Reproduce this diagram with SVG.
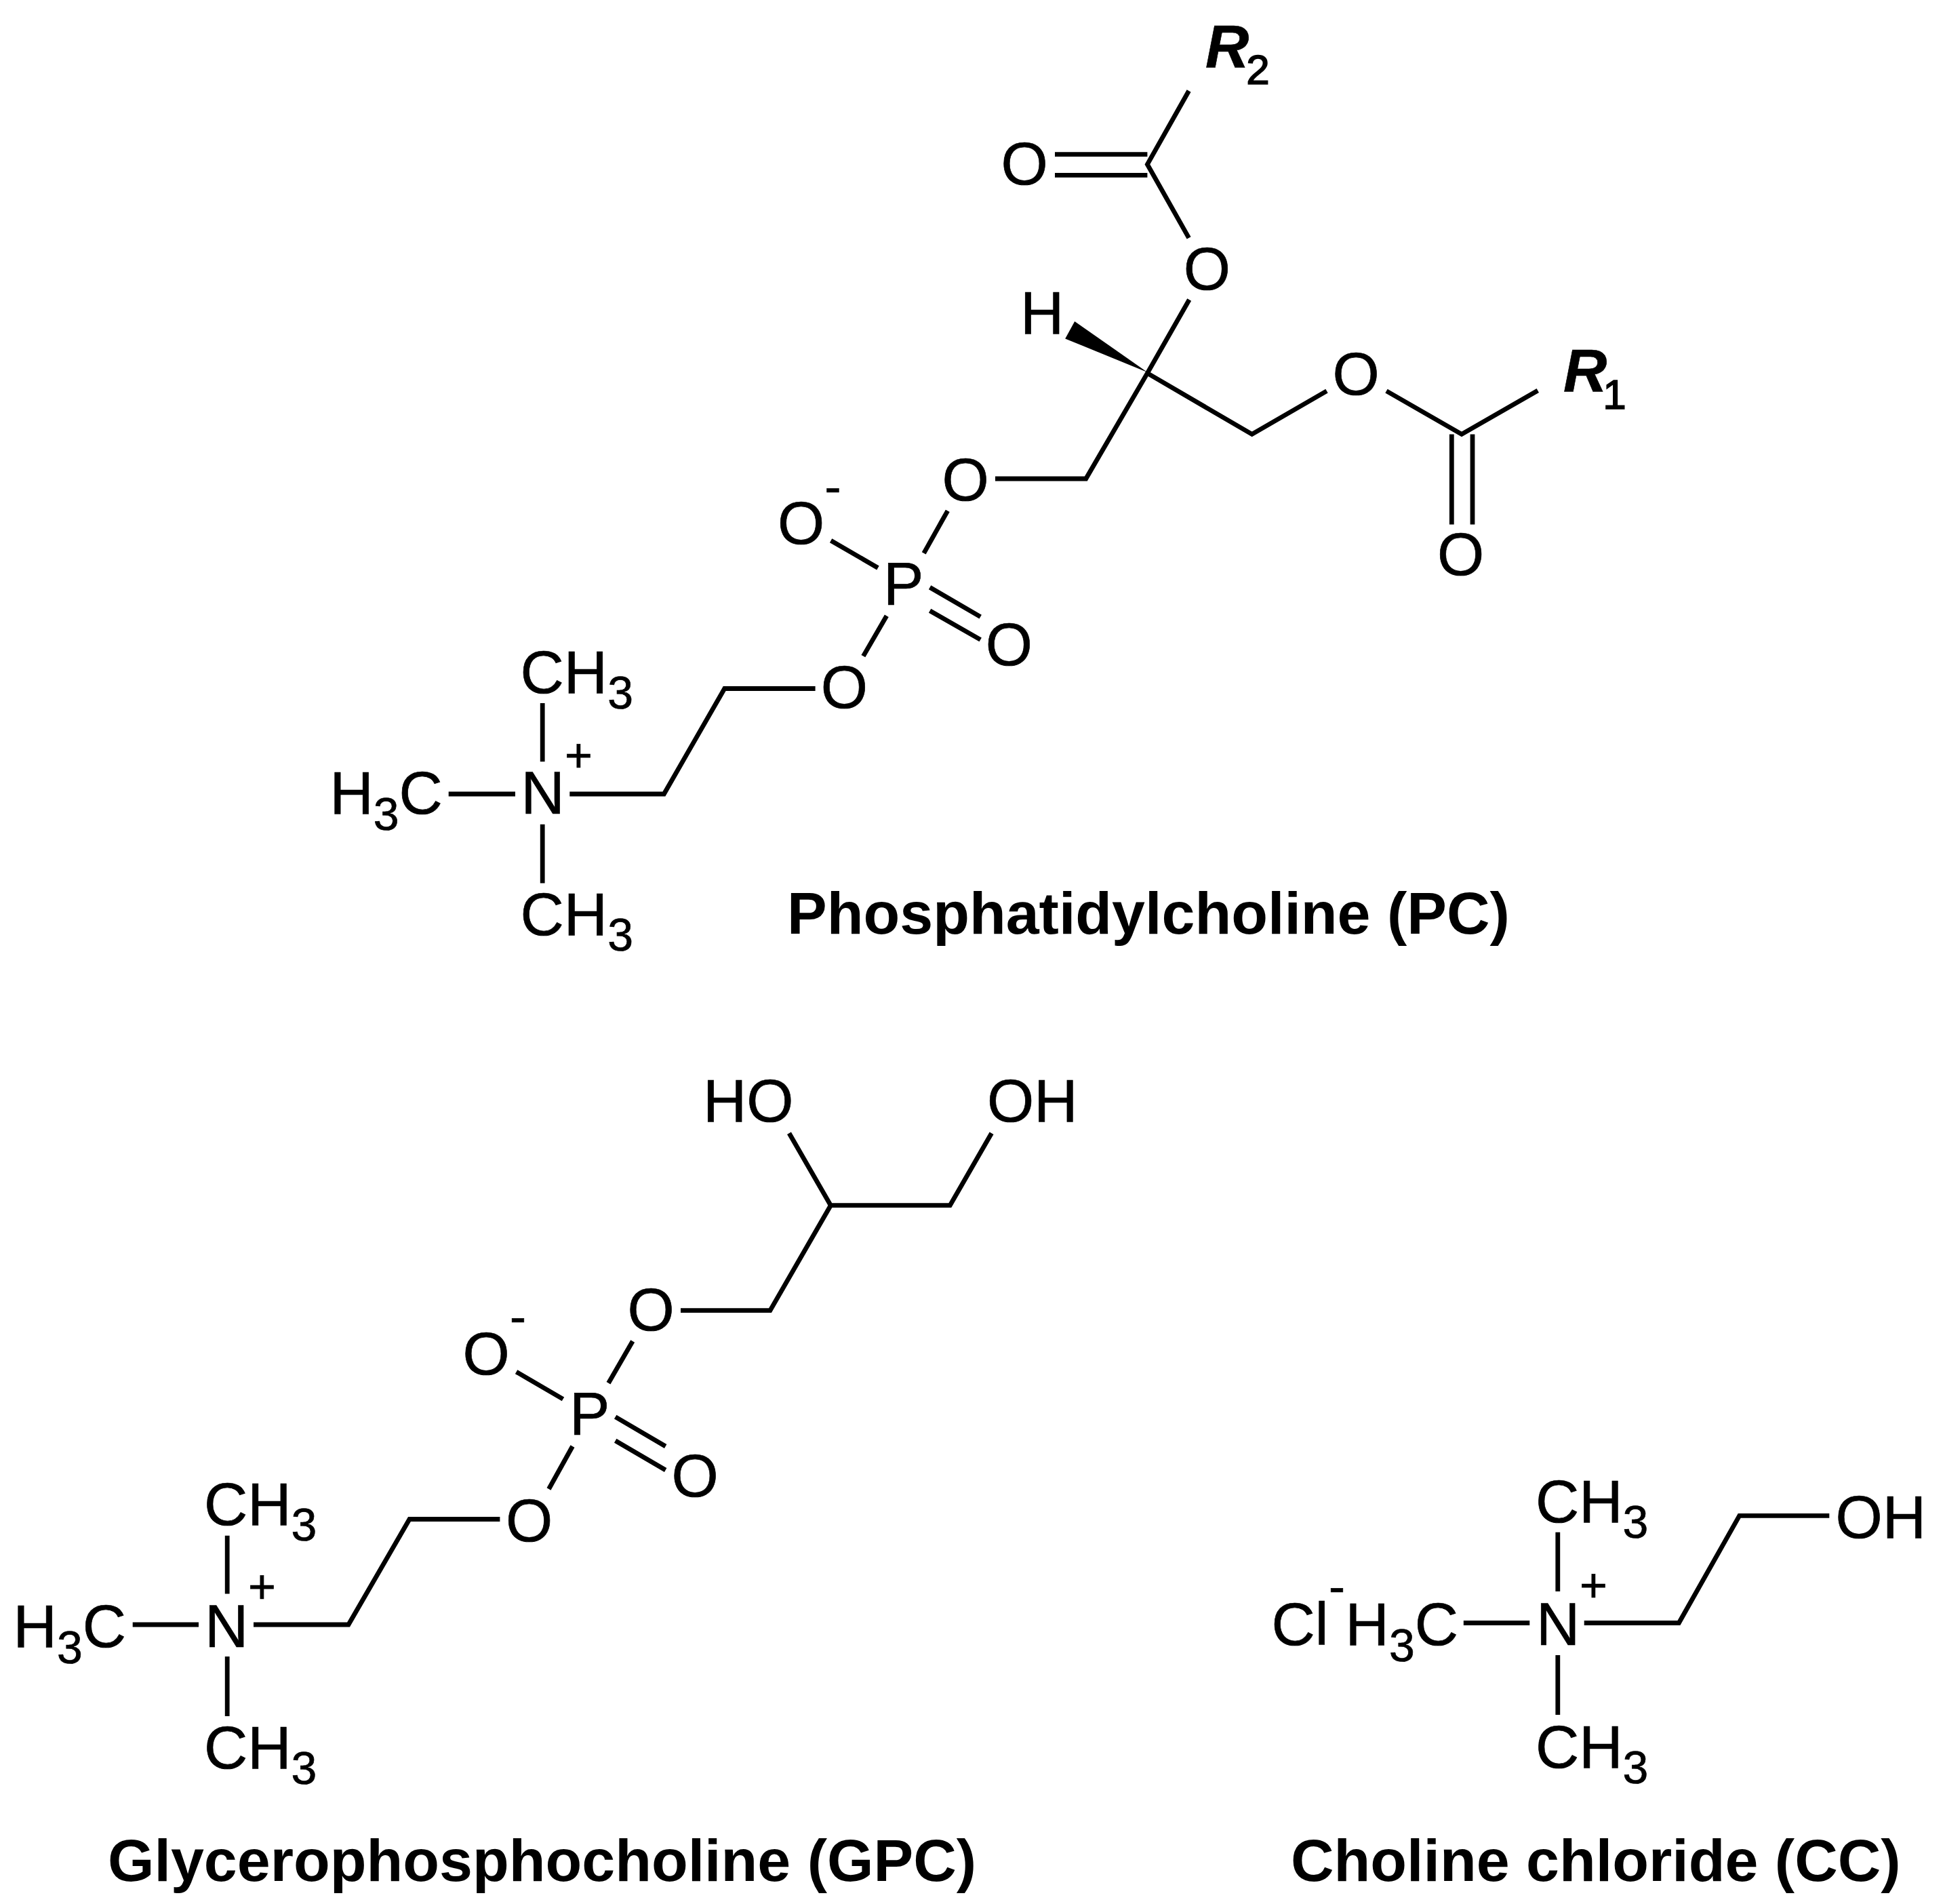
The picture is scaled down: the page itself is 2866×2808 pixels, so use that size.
<svg xmlns="http://www.w3.org/2000/svg" width="2866" height="2808" viewBox="0 0 2866 2808">
<style>
text{font-family:"Liberation Sans",Arial,sans-serif;font-size:89px;fill:#000;stroke:#000;stroke-width:.7}
.sub{font-size:68px}
.chg{font-size:70px}
.neg{font-size:72px}
.rsub{font-size:62px;font-weight:normal;font-style:normal;stroke-width:1.6}
.r{font-weight:bold;font-style:italic}
.title{font-weight:bold;font-size:88px;stroke-width:0}
#bonds path{fill:none;stroke:#000;stroke-width:6.8;stroke-linejoin:miter}
</style>
<rect width="2866" height="2808" fill="#fff"/>
<g id="bonds">
<!-- PC -->
<path d="M1753.6 134L1692.4 242.4L1753.6 350.8"/>
<path d="M1556 227.7H1692.4M1556 258.3H1692.4"/>
<path d="M1754.2 442L1692.4 550.4L1601.8 706H1468"/>
<path d="M1692.4 550.4L1846.7 640.4L1957 576.6"/>
<path d="M2045 576.6L2156 640.4L2268.3 576"/>
<path d="M2141.3 640.4V773.6M2172 640.4V773.6"/>
<path d="M1362.7 815.8L1397.8 753.3"/>
<path d="M1295 837.5L1225.6 797.3"/>
<path d="M1371.6 866.2L1446.2 909.6M1371.6 900.7L1446.2 943.4"/>
<path d="M1273.4 967.6L1307.8 908.3"/>
<path d="M1202.6 1015.5H1068.7L979.4 1171H840.3"/>
<path d="M661.7 1171H760"/>
<path d="M800.2 1037V1123.3M800.2 1215.7V1302.5"/>
<!-- GPC -->
<path d="M1164 1671.2L1225.3 1777.7H1401.3L1462.6 1671.2"/>
<path d="M1225.3 1777.7L1136 1932.7H1004"/>
<path d="M933.2 1978L897.5 2039.8"/>
<path d="M830.5 2063.4L761.6 2023.2"/>
<path d="M907.7 2089.6L981.7 2133M907.7 2124.7L981.7 2168"/>
<path d="M844.5 2133L809.5 2196"/>
<path d="M737.4 2240.5H604L514 2396H374"/>
<path d="M195.7 2396H293"/>
<path d="M335.2 2264.8V2350.5M335.2 2443V2531"/>
<!-- CC -->
<path d="M2698.3 2235.4H2565.7L2476.4 2393.5H2336.7"/>
<path d="M2158.8 2393.5H2256.3"/>
<path d="M2297.8 2259.8V2347M2297.8 2440.9V2529"/>
</g>
<polygon id="wedge" points="1692.4,549 1585.2,473.9 1571.2,499.4" fill="#000"/>
<g id="phosphatidylcholine">
<text class="r" x="1778" y="99">R<tspan class="rsub" dx="-4" dy="25">2</tspan></text>
<text x="1511" y="272" text-anchor="middle">O</text>
<text x="1780.4" y="427" text-anchor="middle">O</text>
<text x="1505" y="492">H</text>
<text x="2000" y="582" text-anchor="middle">O</text>
<text class="r" x="2306" y="577">R<tspan class="rsub" dx="-6" dy="26">1</tspan></text>
<text x="2154.7" y="848" text-anchor="middle">O</text>
<text x="1424" y="738" text-anchor="middle">O</text>
<text x="1181.6" y="802" text-anchor="middle">O</text>
<text class="neg" x="1216.6" y="742.4">-</text>
<text x="1303" y="892.4">P</text>
<text x="1488.3" y="981" text-anchor="middle">O</text>
<text x="1245.3" y="1044" text-anchor="middle">O</text>
<text x="767.6" y="1021.8">CH<tspan class="sub" dy="23">3</tspan></text>
<text x="833" y="1137.5" class="chg">+</text>
<text x="486.5" y="1199.8">H<tspan class="sub" dy="24">3</tspan><tspan dy="-24">C</tspan></text>
<text x="768.5" y="1199.8">N</text>
<text x="767.6" y="1379">CH<tspan class="sub" dy="23">3</tspan></text>
<text class="title" x="1161" y="1377">Phosphatidylcholine (PC)</text>
</g>
<g id="glycerophosphocholine">
<text x="1037" y="1654">HO</text>
<text x="1456" y="1654">OH</text>
<text x="960" y="1962" text-anchor="middle">O</text>
<text x="717" y="2027" text-anchor="middle">O</text>
<text class="neg" x="752" y="1966.4">-</text>
<text x="840" y="2116.4">P</text>
<text x="1025" y="2207" text-anchor="middle">O</text>
<text x="780.7" y="2273" text-anchor="middle">O</text>
<text x="301" y="2249">CH<tspan class="sub" dy="23">3</tspan></text>
<text x="366" y="2364" class="chg">+</text>
<text x="19.6" y="2428.6">H<tspan class="sub" dy="24">3</tspan><tspan dy="-24">C</tspan></text>
<text x="302" y="2428.6">N</text>
<text x="301" y="2607.5">CH<tspan class="sub" dy="23">3</tspan></text>
<text class="title" x="159" y="2774">Glycerophosphocholine (GPC)</text>
</g>
<g id="choline-chloride">
<text x="2265" y="2244.5">CH<tspan class="sub" dy="23">3</tspan></text>
<text x="2707.5" y="2268">OH</text>
<text x="2330" y="2362" class="chg">+</text>
<text x="1875.5" y="2426.4">Cl</text>
<text class="neg" x="1960" y="2364.4">-</text>
<text x="1984.6" y="2426.4">H<tspan class="sub" dy="24">3</tspan><tspan dy="-24">C</tspan></text>
<text x="2266" y="2426.4">N</text>
<text x="2265" y="2607">CH<tspan class="sub" dy="23">3</tspan></text>
<text class="title" x="1904" y="2774">Choline chloride (CC)</text>
</g>
</svg>
